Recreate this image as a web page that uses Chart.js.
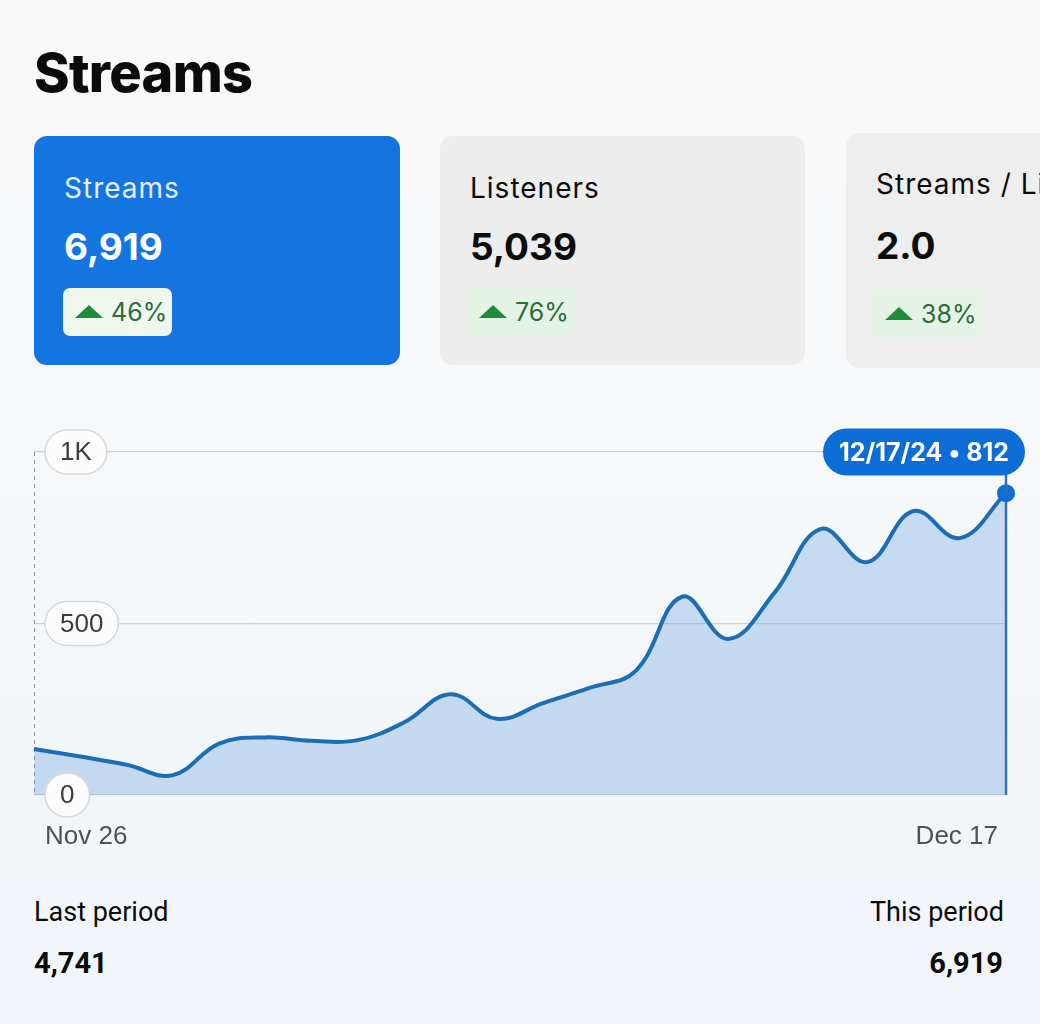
<!DOCTYPE html>
<html>
<head>
<meta charset="utf-8">
<script src="https://cdn.jsdelivr.net/npm/chart.js@4.4.1/dist/chart.umd.min.js"></script>
<style>
  html, body { margin: 0; padding: 0; }
  body {
    width: 1040px; height: 1024px; overflow: hidden; position: relative;
    background: linear-gradient(180deg, #f9f9f9 0%, #f6f8fa 45%, #f1f5f9 100%);
    font-family: Inter, "Noto Sans", sans-serif;
  }
  .abs { position: absolute; }
  #title { left: 34px; top: 41px; font-size: 54px; font-weight: 800; color: #0b0b0b; line-height: 64px; letter-spacing: -0.7px; }
  .card { position: absolute; border-radius: 13px; overflow: hidden; }
  .card .lbl { position: absolute; left: 30px; top: 37px; font-size: 28px; line-height: 30px; font-weight: 400; letter-spacing: 1px; white-space: nowrap; }
  .card .num { position: absolute; left: 30px; top: 91px; font-size: 37px; line-height: 40px; font-weight: 700; white-space: nowrap; }
  .badge { position: absolute; left: 29px; top: 152px; height: 48px; width: 109px; border-radius: 7px; }
  .badge .tri { position: absolute; left: 12px; top: 17px; width: 0; height: 0;
    border-left: 14px solid transparent; border-right: 14px solid transparent; border-bottom: 13px solid #1f8b3b; }
  .badge .pct { position: absolute; left: 48px; top: 10px; font-size: 25px; line-height: 28px; color: #2c6b3a; }
  #c1 { left: 34px; top: 136px; width: 366px; height: 229px; background: #1474e0; }
  #c1 .lbl { color: #e6f0fd; }
  #c1 .num { color: #ffffff; }
  #c1 .badge { background: #eff7ee; }
  #c2 { left: 440px; top: 136px; width: 365px; height: 229px; background: #ededed; }
  #c3 { left: 846px; top: 133px; width: 260px; height: 235px; background: #eeeeee; }
  #c2 .lbl, #c3 .lbl, #c2 .num, #c3 .num { color: #0c0c0c; }
  #c2 .badge, #c3 .badge { background: #e5f3e7; left: 27px; }
  #c3 .badge { top: 157px; }
  #c3 .lbl { top: 36px; }
  #c3 .num { top: 93px; }
  #chartWrap { left: 0; top: 400px; width: 1040px; height: 480px; }
  .foot { position: absolute; font-family: Roboto, "Noto Sans", sans-serif; color: #0b0b0b; white-space: nowrap; }
  .foot.l { font-size: 27px; font-weight: 400; top: 897px; line-height: 30px; }
  .foot.v { font-size: 29px; font-weight: 700; top: 947px; line-height: 32px; }
</style>
</head>
<body>
<div id="title" class="abs">Streams</div>

<div class="card" id="c1">
  <div class="lbl">Streams</div>
  <div class="num">6,919</div>
  <div class="badge"><div class="tri"></div><div class="pct">46%</div></div>
</div>
<div class="card" id="c2">
  <div class="lbl">Listeners</div>
  <div class="num">5,039</div>
  <div class="badge"><div class="tri"></div><div class="pct">76%</div></div>
</div>
<div class="card" id="c3">
  <div class="lbl">Streams / Listener</div>
  <div class="num">2.0</div>
  <div class="badge"><div class="tri"></div><div class="pct">38%</div></div>
</div>

<div id="chartWrap" class="abs"><canvas id="chart" width="1040" height="480"></canvas></div>

<div class="foot l" style="left:34px;">Last period</div>
<div class="foot v" style="left:34px;">4,741</div>
<div class="foot l" style="right:36px;">This period</div>
<div class="foot v" style="right:37px;">6,919</div>

<script>
// ---- data ----
const dates = ['Nov 26','Nov 27','Nov 28','Nov 29','Nov 30','Dec 1','Dec 2','Dec 3','Dec 4','Dec 5','Dec 6',
               'Dec 7','Dec 8','Dec 9','Dec 10','Dec 11','Dec 12','Dec 13','Dec 14','Dec 15','Dec 16','Dec 17'];
const streams = [134, 112, 88, 58, 150, 168, 158, 160, 212, 294, 222,
                 268, 312, 362, 578, 455, 590, 776, 679, 828, 749, 880];
const yTickValues = [0, 500, 1000];
const yTickLabels = ['0', '500', '1K'];
const xEdgeLabels = ['Nov 26', 'Dec 17'];
const highlightDate = '12/17/24';
const highlightValue = 812;

const LINE = '#1c6db6';
const BLUE = '#0d6dd6';

function roundRect(ctx, x, y, w, h, r) {
  ctx.beginPath();
  ctx.moveTo(x + r, y);
  ctx.lineTo(x + w - r, y);
  ctx.arc(x + w - r, y + r, r, -Math.PI / 2, 0);
  ctx.lineTo(x + w, y + h - r);
  ctx.arc(x + w - r, y + h - r, r, 0, Math.PI / 2);
  ctx.lineTo(x + r, y + h);
  ctx.arc(x + r, y + h - r, r, Math.PI / 2, Math.PI);
  ctx.lineTo(x, y + r);
  ctx.arc(x + r, y + r, r, Math.PI, Math.PI * 1.5);
  ctx.closePath();
}

const decor = {
  id: 'decor',
  beforeDatasetsDraw(chart) {
    const { ctx, chartArea, scales } = chart;
    ctx.save();
    ctx.strokeStyle = '#8a8f94';
    ctx.lineWidth = 1;
    ctx.setLineDash([4, 4]);
    ctx.beginPath();
    ctx.moveTo(chartArea.left + 0.5, scales.y.getPixelForValue(1000));
    ctx.lineTo(chartArea.left + 0.5, scales.y.getPixelForValue(0));
    ctx.stroke();
    ctx.restore();
  },
  afterDatasetsDraw(chart) {
    const { ctx, chartArea, scales } = chart;
    const meta = chart.getDatasetMeta(0);
    const last = meta.data[meta.data.length - 1];
    ctx.save();
    // vertical highlight line
    ctx.strokeStyle = '#3471b0';
    ctx.lineWidth = 2.5;
    ctx.beginPath();
    ctx.moveTo(last.x, last.y);
    ctx.lineTo(last.x, scales.y.getPixelForValue(0));
    ctx.stroke();
    // point
    ctx.fillStyle = BLUE;
    ctx.beginPath();
    ctx.arc(last.x, last.y, 9, 0, Math.PI * 2);
    ctx.fill();

    // y tick pills
    ctx.font = '26px "Liberation Sans", Arial, sans-serif';
    ctx.textBaseline = 'middle';
    ctx.textAlign = 'center';
    yTickValues.forEach((v, i) => {
      const y = scales.y.getPixelForValue(v);
      const label = yTickLabels[i];
      const tw = ctx.measureText(label).width;
      const h = 44;
      const w = Math.max(h, tw + 30);
      const x0 = chartArea.left + 11;
      ctx.fillStyle = '#fcfcfc';
      ctx.strokeStyle = '#d6d8da';
      ctx.lineWidth = 1.5;
      roundRect(ctx, x0, y - h / 2, w, h, h / 2);
      ctx.fill();
      ctx.stroke();
      ctx.fillStyle = '#3c3c3c';
      ctx.fillText(label, x0 + w / 2, y + 1);
    });

    // x edge labels
    ctx.fillStyle = '#4f5254';
    ctx.font = '26px "Liberation Sans", Arial, sans-serif';
    const yl = scales.y.getPixelForValue(0) + 42;
    ctx.textAlign = 'left';
    ctx.fillText(xEdgeLabels[0], chartArea.left + 11, yl);
    ctx.textAlign = 'right';
    ctx.fillText(xEdgeLabels[1], last.x - 8, yl);

    // highlight pill
    const text = highlightDate + ' \u2022 ' + highlightValue;
    ctx.font = '700 25px Inter, "Noto Sans", sans-serif';
    const tw = ctx.measureText(text).width;
    const ph = 47, pw = tw + 32;
    const py = scales.y.getPixelForValue(1000);
    const px1 = last.x + 19;
    ctx.strokeStyle = '#3471b0';
    ctx.lineWidth = 2.5;
    ctx.beginPath();
    ctx.moveTo(last.x, py + ph / 2 - 2);
    ctx.lineTo(last.x, last.y);
    ctx.stroke();
    ctx.fillStyle = BLUE;
    roundRect(ctx, px1 - pw, py - ph / 2, pw, ph, ph / 2);
    ctx.fill();
    ctx.fillStyle = '#ffffff';
    ctx.textAlign = 'center';
    ctx.fillText(text, px1 - pw / 2, py + 1);
    ctx.restore();
  }
};

new Chart(document.getElementById('chart'), {
  type: 'line',
  data: {
    labels: dates,
    datasets: [{
      data: streams,
      borderColor: LINE,
      borderWidth: 4,
      backgroundColor: 'rgba(120,170,225,0.38)',
      fill: 'origin',
      tension: 0.4,
      pointRadius: 0,
      clip: false
    }]
  },
  options: {
    responsive: false,
    animation: false,
    devicePixelRatio: 1,
    layout: { padding: { left: 34, right: 34, top: 52, bottom: 85 } },
    plugins: { legend: { display: false }, tooltip: { enabled: false } },
    scales: {
      x: { display: false },
      y: {
        min: 0, max: 1000,
        ticks: { display: false, stepSize: 500 },
        grid: { color: '#cdd1d4', lineWidth: 1.2, drawTicks: false },
        border: { display: false }
      }
    }
  },
  plugins: [decor]
});
</script>
</body>
</html>
